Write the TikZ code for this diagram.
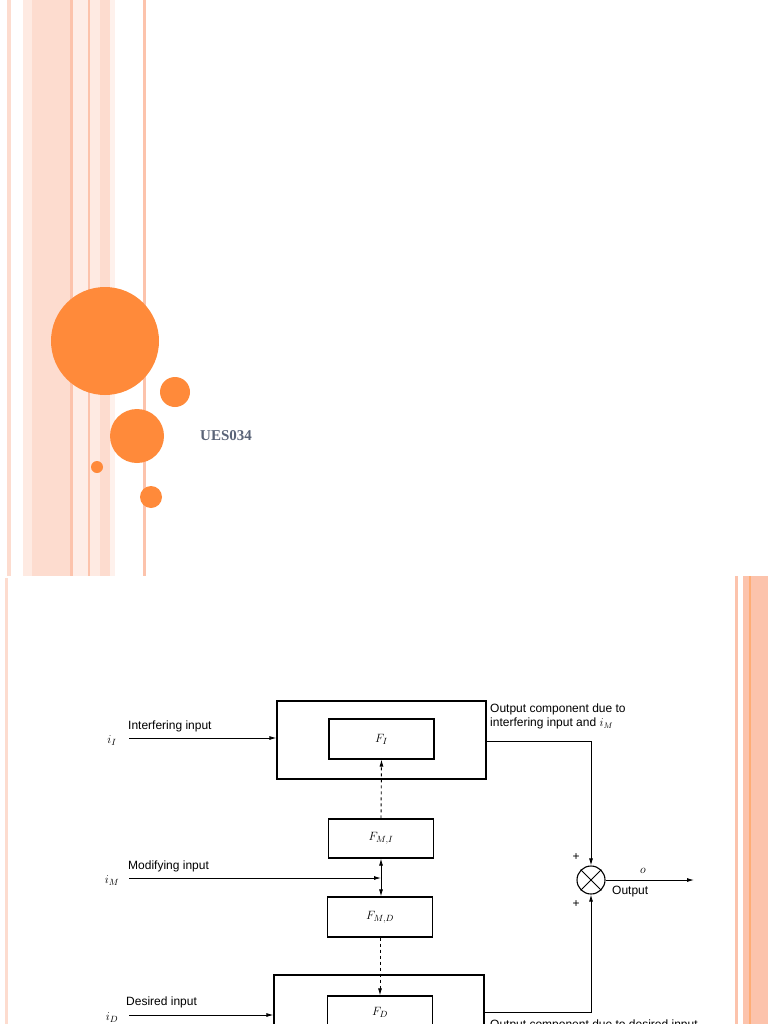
\documentclass[tikz,border=0pt]{standalone}
\usepackage{fontspec}
\setmainfont{Liberation Sans}
\newfontfamily\ttlfont{Liberation Serif}
\usetikzlibrary{arrows.meta}
\definecolor{pk}{HTML}{FDDCCF}
\definecolor{pkd}{HTML}{FCC3AC}
\definecolor{og}{HTML}{FF8A3A}
\definecolor{tx}{HTML}{5A6478}
\begin{document}
\begin{tikzpicture}[x=1pt,y=-1pt,
  blk/.style={draw,line width=1.1pt,inner sep=0pt,font=\fontsize{13}{15}\selectfont},
  lbl/.style={font=\fontsize{12}{14}\selectfont,inner sep=0pt},
  arr/.style={-{Latex[length=7pt,width=4pt]},line width=0.9pt},
  ln/.style={line width=0.9pt}]
\useasboundingbox (0,0) rectangle (768,1024);
\fill[white] (0,0) rectangle (768,1024);
% top slide stripes
\fill[pk] (7,0) rectangle (11,576);
\fill[pk!60] (23,0) rectangle (32,576);
\fill[pk] (32,0) rectangle (70,576);
\fill[pkd] (70,0) rectangle (73,576);
\fill[pk!50] (73,0) rectangle (88,576);
\fill[pkd] (88,0) rectangle (90,576);
\fill[pk!60] (90,0) rectangle (100,576);
\fill[pk] (100,0) rectangle (110,576);
\fill[pk!40] (110,0) rectangle (115,576);
\fill[pkd] (143,0) rectangle (146,576);
% circles
\fill[og] (105,341) circle (54);
\fill[og] (175,392) circle (15);
\fill[og] (137,436) circle (27);
\fill[og] (97,467) circle (6);
\fill[og] (151,497) circle (11);
\node[text=tx,font=\ttlfont\bfseries\fontsize{15}{17}\selectfont,anchor=west,inner sep=0pt] (t) at (200,436) {UES034};
% bottom slide stripes
\fill[pk] (5,578) rectangle (8,1024);
\fill[pkd] (735,576) rectangle (738,1024);
\fill[pkd] (743,576) rectangle (768,1024);
\fill[og!70] (749,576) rectangle (750.5,1024);
% diagram
\begin{scope}
\clip (0,576) rectangle (768,1024);
\node[blk,minimum width=209pt,minimum height=78pt] (oi) at (381.5,740) {};
\node[blk,minimum width=105pt,minimum height=40pt] (fi) at (381.5,739) {$F_I$};
\node[blk,minimum width=105pt,minimum height=39pt] (fmi) at (381,838.5) {$F_{M,I}$};
\node[blk,minimum width=105pt,minimum height=40pt] (fmd) at (380,917) {$F_{M,D}$};
\node[blk,minimum width=210pt,minimum height=90pt] (od) at (379,1020) {};
\node[blk,minimum width=105pt,minimum height=50pt] (fd) at (380,1021) {};
\node[lbl,font=\fontsize{13}{15}\selectfont] (fdl) at (380,1012) {$F_D$};
\node[draw,line width=1.1pt,circle,minimum size=28pt,inner sep=0pt] (s) at (591,880) {};
\draw[ln] (s.45) -- (s.225) (s.135) -- (s.315);
\coordinate (ii) at (129,738);
\coordinate (im) at (129,878);
\coordinate (id) at (129,1015);
\coordinate (j) at (381,878);
\coordinate (oe) at (694,880);
\node[lbl,font=\fontsize{13}{15}\selectfont] (a1) at (112,741) {$i_I$};
\node[lbl,anchor=south west] (b1) at (128,732) {Interfering input};
\node[lbl,font=\fontsize{13}{15}\selectfont] (a2) at (112,881) {$i_M$};
\node[lbl,anchor=south west] (b2) at (128,872) {Modifying input};
\node[lbl,font=\fontsize{13}{15}\selectfont] (a3) at (112,1018) {$i_D$};
\node[lbl,anchor=south west] (b3) at (126,1008) {Desired input};
\node[lbl,anchor=north west,align=left] (c1) at (490,704) {Output component due to\\interfering input and $i_M$};
\node[lbl,font=\fontsize{13}{15}\selectfont] (o1) at (643,871) {$o$};
\node[lbl,anchor=north west] (o2) at (612,886) {Output};
\node[lbl] (p1) at (576,857) {+};
\node[lbl] (p2) at (576,904) {+};
\node[lbl,anchor=north west] (c2) at (490,1020) {Output component due to desired input};
\draw[arr] (ii) -- (oi.west |- ii);
\draw[arr] (im) -- (j);
\draw[arr] (id) -- (od.west |- id);
\draw[arr] (j) -- (fmi.south -| j);
\draw[arr] (j) -- (fmd.north -| j);
\draw[arr,dashed] (fmi.north) -- (fi.south);
\draw[arr,dashed] (fmd.south) -- (fd.north);
\draw[arr] (oi.east |- 0,741) -| (s.north);
\draw[arr] (od.east |- 0,1012) -| (s.south);
\draw[arr] (s.east) -- (oe);
\end{scope}
\end{tikzpicture}
\end{document}
